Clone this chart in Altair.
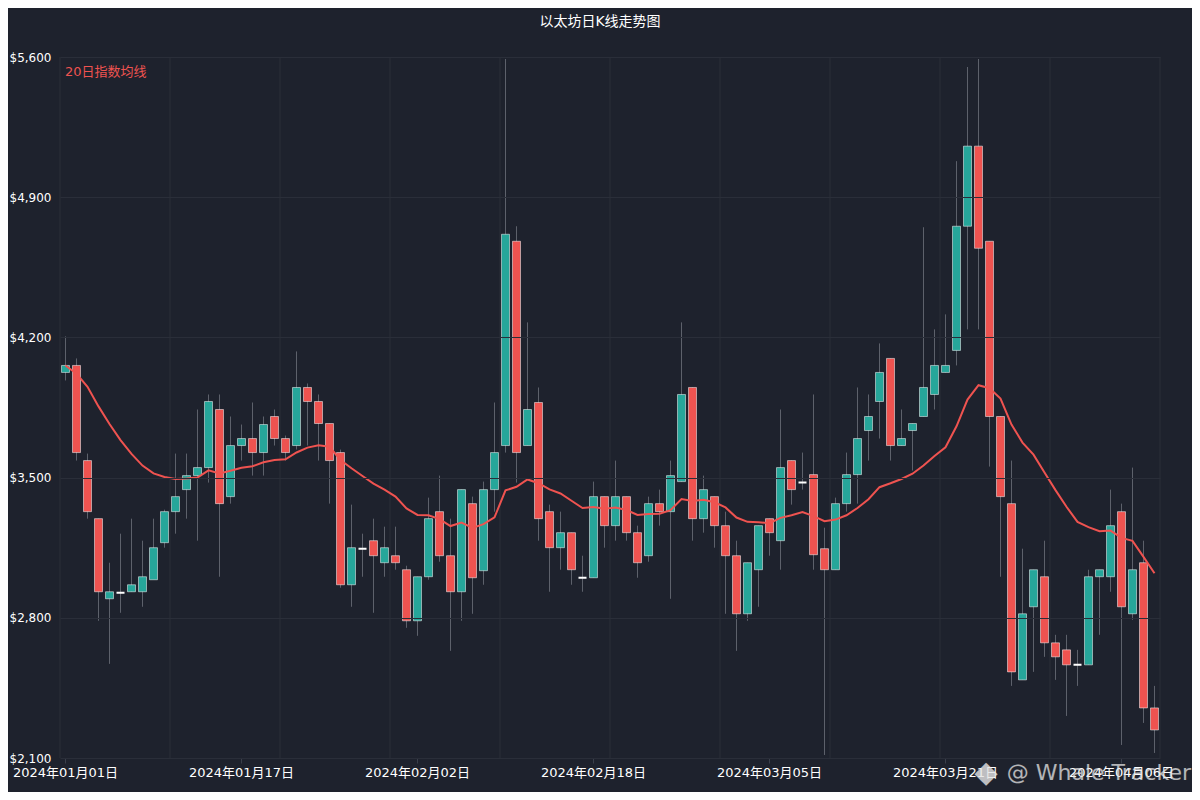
import altair as alt
import pandas as pd

# ---- categories -------------------------------------------------------------
dates = [f"{d.year}年{d.month:02d}月{d.day:02d}日"
         for d in pd.date_range("2024-01-01", periods=100, freq="D")]
label_dates = dates[::16]
grid_dates = dates[::10]

title_text = "以太坊日K线走势图"
ma_label = "20日指数均线"
watermark_icon = "◆"
watermark_text = "@ Whale Tracker"
y_ticks = [2100, 2800, 3500, 4200, 4900, 5600]

# ---- OHLC values ------------------------------------------------------------
opens = [4025, 4060, 3585, 3295, 2895, 2925, 2930, 2930, 2990, 3175,
         3330, 3440, 3510, 3550, 3840, 3405, 3660, 3695, 3625, 3805,
         3695, 3660, 3950, 3880, 3770, 3625, 2965, 3145, 3185, 3075,
         3110, 3040, 2785, 3005, 3330, 3110, 2930, 3370, 3035, 3440,
         3660, 4680, 3660, 3875, 3330, 3150, 3225, 3000, 3000, 3405,
         3260, 3405, 3225, 3110, 3370, 3330, 3480, 3950, 3295, 3405,
         3260, 3110, 2820, 3040, 3295, 3185, 3585, 3475, 3515, 3145,
         3040, 3370, 3515, 3735, 3880, 4095, 3660, 3735, 3805, 3915,
         4025, 4135, 4755, 5155, 4680, 3805, 3370, 2490, 2855, 3005,
         2675, 2640, 2565, 2565, 3005, 3005, 3330, 2820, 3075, 2350]
closes = [4060, 3625, 3330, 2930, 2930, 2925, 2965, 3005, 3150, 3330,
          3405, 3510, 3550, 3880, 3370, 3660, 3695, 3625, 3765, 3695,
          3625, 3950, 3880, 3770, 3585, 2965, 3150, 3145, 3110, 3150,
          3075, 2785, 3005, 3295, 3110, 2930, 3440, 3000, 3440, 3625,
          4715, 3625, 3840, 3295, 3150, 3225, 3040, 3000, 3405, 3260,
          3405, 3225, 3075, 3370, 3330, 3510, 3915, 3295, 3440, 3260,
          3110, 2820, 3075, 3260, 3225, 3550, 3440, 3475, 3115, 3040,
          3370, 3515, 3695, 3805, 4025, 3660, 3695, 3770, 3950, 4060,
          4060, 4755, 5155, 4645, 3805, 3405, 2530, 2820, 3040, 2675,
          2605, 2565, 2565, 3005, 3040, 3260, 2855, 3040, 2350, 2240]
highs = [4205, 4095, 3620, 3295, 3075, 3220, 3295, 3185, 3295, 3340,
         3620, 3620, 3840, 3915, 3915, 3805, 3765, 3875, 3805, 3840,
         3710, 4130, 3970, 3915, 3770, 3640, 3365, 3220, 3295, 3255,
         3255, 3060, 3005, 3400, 3510, 3295, 3440, 3405, 3480, 3875,
         5590, 4755, 4275, 3950, 3365, 3330, 3225, 3110, 3480, 3405,
         3585, 3405, 3260, 3405, 3440, 3585, 4275, 3950, 3510, 3405,
         3330, 3185, 3075, 3260, 3295, 3840, 3585, 3625, 3915, 3250,
         3400, 3625, 3950, 3915, 4170, 4095, 3840, 3770, 4750, 4240,
         4315, 5080, 5550, 5590, 4680, 3805, 3585, 3145, 3040, 3185,
         2715, 2715, 2640, 3040, 3040, 3440, 3370, 3550, 3185, 2460]
lows = [3985, 3585, 3295, 2785, 2570, 2825, 2930, 2855, 3005, 3150,
        3220, 3295, 3185, 3475, 3005, 3370, 3585, 3510, 3510, 3660,
        3585, 3640, 3660, 3585, 3370, 2950, 2855, 3005, 2825, 3005,
        3040, 2750, 2710, 2990, 3080, 2635, 2785, 2820, 2965, 3330,
        3625, 3475, 3660, 3185, 2930, 3040, 2965, 2930, 3000, 3150,
        3185, 3185, 3000, 3080, 3260, 2895, 3480, 3185, 3225, 3150,
        2820, 2635, 2785, 2855, 3110, 3040, 3365, 3440, 3040, 2115,
        3040, 3330, 3370, 3585, 3695, 3585, 3660, 3535, 3805, 3840,
        4025, 4060, 4240, 4240, 3555, 3005, 2460, 2490, 2530, 2605,
        2490, 2310, 2460, 2565, 2715, 2930, 2165, 2790, 2275, 2125]

# 20-period exponential moving average of the closes (the indicator line)
ema = pd.Series(closes, dtype=float).ewm(span=20, adjust=False).mean().round(1).tolist()

df = pd.DataFrame({"date": dates, "open": opens, "high": highs,
                   "low": lows, "close": closes, "ema": ema})
df["dir"] = ["up" if c > o else ("down" if c < o else "flat")
             for o, c in zip(opens, closes)]

# ---- styling ------------------------------------------------------------------
BG = "#1e222d"
GRID = "#2a2e39"
UP = "#26a69a"
DOWN = "#ef5350"

y_scale = alt.Scale(domain=[2100, 5600], nice=False, zero=False)
x_scale = alt.Scale(paddingInner=0, paddingOuter=0)

x_main = alt.X("date:O", sort=dates, title=None, scale=x_scale,
               axis=alt.Axis(values=label_dates, labelAngle=0, labelColor="#ffffff",
                             labelFontSize=13, labelPadding=3, labelOverlap=False,
                             labelFlush=False, tickColor="#3a3f4b", tickSize=5,
                             domain=False, grid=False))
y_main = alt.Y("low:Q", scale=y_scale, title=None,
               axis=alt.Axis(values=y_ticks, format="$,.0f", grid=True,
                             gridColor=GRID, gridWidth=1, domain=False, ticks=False,
                             labelColor="#ffffff", labelFontSize=12, labelPadding=9,
                             zindex=1))

base = alt.Chart(df)

wicks = base.mark_rule(color="#5d616b", strokeWidth=1).encode(
    x=x_main, y=y_main, y2="high:Q")

bodies = base.mark_bar(width=8, stroke="#ffffff").encode(
    x=alt.X("date:O", sort=dates, title=None),
    y=alt.Y("open:Q", title=None),
    y2="close:Q",
    color=alt.Color("dir:N", legend=None,
                    scale=alt.Scale(domain=["up", "down", "flat"],
                                    range=[UP, DOWN, "#ffffff"])),
    strokeOpacity=alt.condition("datum.open == datum.close", alt.value(1), alt.value(0.5)),
    strokeWidth=alt.condition("datum.open == datum.close", alt.value(2), alt.value(1)),
)

vgrid = alt.Chart(pd.DataFrame({"date": grid_dates})).mark_rule(
    color=GRID, strokeWidth=1).encode(
    x=alt.X("date:O", sort=dates, title=None, bandPosition=0))
vedge = alt.Chart(pd.DataFrame({"date": [dates[-1]]})).mark_rule(
    color=GRID, strokeWidth=1).encode(
    x=alt.X("date:O", sort=dates, title=None, bandPosition=1))

ema_line = base.mark_line(color=DOWN, strokeWidth=2).encode(
    x=alt.X("date:O", sort=dates, title=None),
    y=alt.Y("ema:Q", title=None))

legend_text = alt.Chart(pd.DataFrame({"t": [ma_label]})).mark_text(
    align="left", baseline="middle", color=DOWN, fontSize=13).encode(
    x=alt.value(5), y=alt.value(15), text="t:N")

wm_icon = alt.Chart(pd.DataFrame({"t": [watermark_icon]})).mark_text(
    align="center", baseline="middle", color="#e6e6e6", opacity=0.8, fontSize=30).encode(
    x=alt.value(926), y=alt.value(716), text="t:N")

wm_text = alt.Chart(pd.DataFrame({"t": [watermark_text]})).mark_text(
    align="right", baseline="middle", color="#e6e6e6", opacity=0.75, fontSize=22).encode(
    x=alt.value(1131), y=alt.value(716), text="t:N")

chart = alt.layer(
    wicks, bodies, vgrid, vedge, ema_line, legend_text, wm_icon, wm_text
).properties(
    width=1100, height=701,
    autosize="none",
    padding={"left": 52, "top": 49, "right": 32, "bottom": 34},
    title=alt.TitleParams(text=title_text, color="#ffffff", fontSize=14,
                          fontWeight="normal", anchor="middle", dx=-10,
                          offset=22, frame="group"),
).configure(
    background=BG, font="DejaVu Sans, Noto Sans CJK SC"
).configure_view(stroke=None)

chart.save("out.html", embed_options={"renderer": "svg", "actions": False})
